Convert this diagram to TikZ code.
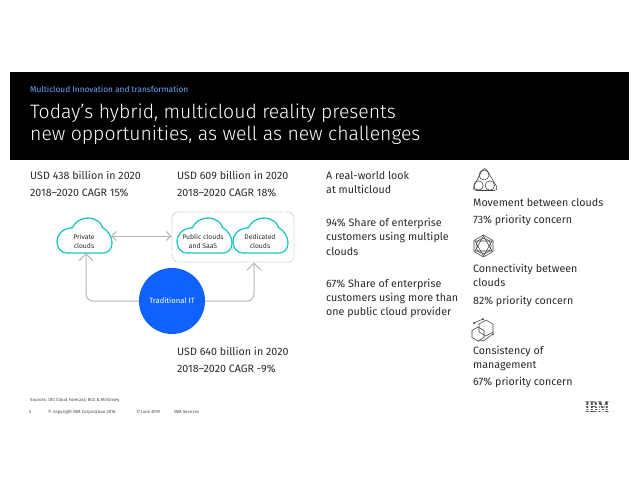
\documentclass[tikz,border=0pt]{standalone}
\usepackage{fontspec}
\setmainfont{Fira Sans}
\newfontfamily\titlefont{Fira Sans Light}
\newfontfamily\logofont{Liberation Serif}
\usetikzlibrary{arrows.meta}
\definecolor{ibmblue}{HTML}{0F62FE}
\definecolor{cloudteal}{HTML}{1FC8C0}
\definecolor{txt}{HTML}{2A2A2A}
\definecolor{link}{HTML}{B8B8B8}
\definecolor{kicker}{HTML}{6EA6FF}
\tikzset{
  x=1pt,y=-1pt,
  lbl/.style={anchor=base west,inner sep=0pt,text=txt,font=\fontsize{10.7}{12}\selectfont},
  small/.style={anchor=base west,inner sep=0pt,text=txt!85,font=\fontsize{4.4}{5}\selectfont},
  cloudbox/.style={minimum width=55pt,minimum height=24pt,inner sep=0pt,align=center,text=txt,font=\fontsize{6.8}{9.2}\selectfont},
  cloudline/.style={draw=cloudteal,line width=1.3pt,fill=white},
  linkline/.style={draw=link,line width=1pt,rounded corners=7pt},
  tip/.style={-{Straight Barb[length=7pt,width=14pt,line width=1pt]}},
  tips/.style={{Straight Barb[length=4.5pt,width=9pt,line width=1pt]}-{Straight Barb[length=4.5pt,width=9pt,line width=1pt]}},
  icon/.style={draw=txt!90,line width=0.55pt},
  titletext/.style={lbl,text=white,font=\titlefont\fontsize{19.4}{24}\selectfont},
}
\newcommand{\cloudshape}[2]{%
  \path[cloudline,shift={(#1,#2)}] (10,0) .. controls (4,0) and (0,-5) .. (0,-11)
   .. controls (0,-19) and (6,-25) .. (15,-25)
   .. controls (18,-31) and (24,-35) .. (31,-35)
   .. controls (38,-35) and (44,-31) .. (46,-25)
   .. controls (51,-23) and (55,-16) .. (55,-10)
   .. controls (55,-4) and (51,0) .. (46,0) -- cycle;}
\begin{document}
\begin{tikzpicture}
\useasboundingbox (0,0) rectangle (638,493);
\fill[white] (0,0) rectangle (638,493);
\fill[black] (10,72) rectangle (629,160);
\node[lbl,text=kicker,font=\fontsize{8.3}{9}\selectfont] (kick) at (30,92) {Multicloud Innovation and transformation};
\node[titletext] (t1) at (30,118) {Today’s hybrid, multicloud reality presents};
\node[titletext] (t2) at (30,140) {new opportunities, as well as new challenges};

\node[lbl] (a1) at (30,179) {USD 438 billion in 2020};
\node[lbl] (a2) at (30,196) {2018–2020 CAGR 15\%};
\node[lbl] (b1) at (177,179) {USD 609 billion in 2020};
\node[lbl] (b2) at (177,196) {2018–2020 CAGR 18\%};
\node[lbl] (c1) at (177,355) {USD 640 billion in 2020};
\node[lbl] (c2) at (177,372) {2018–2020 CAGR -9\%};

\node[lbl] (d1) at (326,179) {A real-world look};
\node[lbl] (d2) at (326,193) {at multicloud};
\node[lbl] (d3) at (326,226) {94\% Share of enterprise};
\node[lbl] (d4) at (326,240.5) {customers using multiple};
\node[lbl] (d5) at (326,255) {clouds};
\node[lbl] (d6) at (326,287) {67\% Share of enterprise};
\node[lbl] (d7) at (326,301) {customers using more than};
\node[lbl] (d8) at (326,315) {one public cloud provider};

\node[lbl] (e1) at (473,206) {Movement between clouds};
\node[lbl] (e2) at (473,223) {73\% priority concern};
\node[lbl] (e3) at (473,272) {Connectivity between};
\node[lbl] (e4) at (473,286) {clouds};
\node[lbl] (e5) at (473,304) {82\% priority concern};
\node[lbl] (e6) at (473,354) {Consistency of};
\node[lbl] (e7) at (473,368) {management};
\node[lbl] (e8) at (473,385) {67\% priority concern};

\node[small] (s1) at (30,401) {Sources: IDC Cloud Forecast; BCG \& McKinsey};
\node[small] (s2) at (29,413) {5};
\node[small] (s3) at (48,413) {© Copyright IBM Corporation 2018};
\node[small] (s4) at (136,413) {17 June 2019};
\node[small] (s5) at (174,413) {IBM Services};

% diagram
\node[draw=link,densely dotted,line width=0.8pt,rounded corners=6pt,minimum width=122pt,minimum height=50pt,inner sep=0pt] (group) at (233,237) {};
\cloudshape{57}{253}\cloudshape{177}{253}\cloudshape{233}{253}
\node[cloudbox] (priv) at (84,241) {Private\\clouds};
\node[cloudbox] (pub) at (203,241) {Public clouds\\and SaaS};
\node[cloudbox] (ded) at (260,241) {Dedicated\\clouds};
\node[circle,fill=ibmblue,minimum size=66pt,inner sep=0pt,text=white,font=\fontsize{7.6}{9}\selectfont] (trad) at (172,301) {Traditional IT};
\draw[linkline,tip] (trad.west) -| ([xshift=2pt]priv.south);
\draw[linkline,tip] (trad.east) -| ([xshift=21pt]group.south);
\draw[draw=link,line width=1pt,tips] ([xshift=-0.5pt,yshift=5pt]priv.east) -- ([yshift=1pt]group.west);

% icon 1
\draw[icon] (484,175) circle (5);
\draw[icon] (478.5,185.5) circle (4.7);
\draw[icon] (489.8,185.5) circle (4.7);
\draw[icon,rounded corners=5pt] (484.5,166) -- (499,190.5) -- (471.5,190.5) -- cycle;
% icon 2
\draw[icon] (483.5,235) -- (493,240.5) -- (493,251.5) -- (483.5,257) -- (474,251.5) -- (474,240.5) -- cycle;
\draw[icon] (483.5,246) circle (7.5);
\draw[icon] (483.5,236) -- (492,251) -- (475,251) -- cycle;
\draw[icon] (475,241) -- (492,241) -- (483.5,256) -- cycle;
% icon 3
\draw[icon] (486,320) -- (493,324) -- (493,332) -- (486,336) -- (479,332) -- (479,324) -- cycle;
\draw[icon] (478,327) -- (484,330.5) -- (484,337.5) -- (478,341) -- (472,337.5) -- (472,330.5) -- cycle;
\draw[icon] (474,323) -- (483,319);
\draw[icon] (493,334) -- (484,340.5) -- (478,341);
\fill[txt] (483,319) circle (1) (474,323) circle (1) (493,334) circle (1);

% logo
\node[inner sep=0pt,anchor=base west,text=txt!85,font=\logofont\bfseries\fontsize{12}{12}\selectfont] (logo) at (585,412.7) {\scalebox{1}[1.35]{IBM}};
\foreach \yy in {405.2,408,410.6} \draw[white,line width=0.25pt] (583,\yy) -- (611,\yy);
\end{tikzpicture}
\end{document}
